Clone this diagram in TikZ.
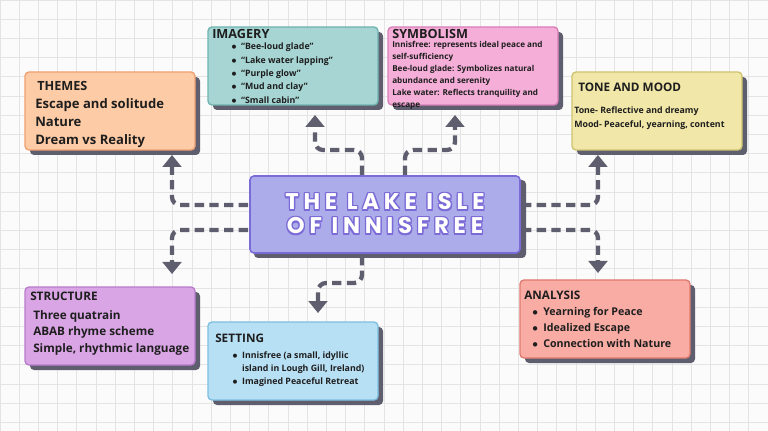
\documentclass[tikz,border=0pt]{standalone}
\usepackage{fontspec}
\setmainfont{Open Sans}
\newfontfamily\titlefont{Poppins}
\usetikzlibrary{arrows.meta}
\definecolor{shad}{HTML}{5E5E6E}
\definecolor{gridc}{HTML}{E4E4E4}
\definecolor{cpeach}{HTML}{FDCBA5}\definecolor{bpeach}{HTML}{F0A070}
\definecolor{cteal}{HTML}{A6D5D3}\definecolor{bteal}{HTML}{6FB3B0}
\definecolor{cpink}{HTML}{F4AED8}\definecolor{bpink}{HTML}{D97FB8}
\definecolor{cyel}{HTML}{F1E7A8}\definecolor{byel}{HTML}{CFC36E}
\definecolor{clav}{HTML}{ADACEB}\definecolor{blav}{HTML}{7B6BD6}
\definecolor{cpur}{HTML}{D9A5E5}\definecolor{bpur}{HTML}{B87ACB}
\definecolor{cblue}{HTML}{B8E0F5}\definecolor{bblue}{HTML}{7CBFE0}
\definecolor{csal}{HTML}{F9ACA3}\definecolor{bsal}{HTML}{E07A70}
\definecolor{txt}{HTML}{1E1E1E}
\tikzset{
 card/.style={rounded corners=3pt, line width=1pt},
 conn/.style={shad, line width=3.2pt, dash pattern=on 7pt off 4pt, rounded corners=6pt, -{Triangle[width=14pt,length=9pt]}},
 ttl/.style={anchor=north west, font=\bfseries\fontsize{9.5}{11}\selectfont, text=txt, inner sep=0pt},
 body/.style={anchor=north west, font=\bfseries\fontsize{9.5}{12}\selectfont, text=txt, inner sep=0pt, align=left},
 small/.style={anchor=north west, font=\bfseries\fontsize{6.1}{9}\selectfont, text=txt, inner sep=0pt, align=left},
}
\newcommand{\cardbox}[6]{% name, x1,y1,x2,y2, fill/border
 \fill[shad, rounded corners=3pt] (#2+5,#3+5) rectangle (#4+5,#5+5);
 \draw[card, fill=c#6, draw=b#6] (#2,#3) rectangle (#4,#5);
 \coordinate (#1) at (#2,#3);
}
\begin{document}
\begin{tikzpicture}[x=0.75pt,y=-0.75pt]
\useasboundingbox (0,0) rectangle (768,431);
\fill[white!97!gray] (0,0) rectangle (768,431);
\foreach \i in {0,...,40}{\draw[gridc, line width=0.6pt] (\i*19.2,0) -- (\i*19.2,431);}
\foreach \i in {0,...,23}{\draw[gridc, line width=0.6pt] (0,\i*19.2) -- (768,\i*19.2);}
% connectors
\coordinate (cl1) at (248,205); \coordinate (cl2) at (248,230);
\coordinate (ct1) at (362,175); \coordinate (ct2) at (405,175);
\coordinate (cr1) at (522,205); \coordinate (cr2) at (522,230);
\coordinate (cb) at (362,256);
\coordinate (a1) at (172,155); \coordinate (a2) at (172,274);
\coordinate (a3) at (315,115); \coordinate (a4) at (455,115);
\coordinate (a5) at (598,155); \coordinate (a6) at (598,273);
\coordinate (a7) at (318,313);
\draw[conn] (cl1) -| (a1);
\draw[conn] (cl2) -| (a2);
\draw[conn] (ct1) |- (338,150) -| (a3);
\draw[conn] (ct2) |- (430,150) -| (a4);
\draw[conn] (cr1) -| (a5);
\draw[conn] (cr2) -| (a6);
\draw[conn] (cb) |- (340,283) -| (a7);
% cards
\cardbox{themes}{25}{72}{195}{150}{peach}
\node[ttl] at (37,81) {THEMES};
\node[body, font=\bfseries\fontsize{9.8}{13.5}\selectfont] at (35,98) {Escape and solitude\\Nature\\Dream vs Reality};
\cardbox{imagery}{208}{27}{378}{105}{teal}
\node[ttl] at (212,29) {IMAGERY};
\node[small, font=\bfseries\fontsize{6.6}{10}\selectfont] at (231,43) {$\bullet$\enspace ``Bee-loud glade''\\$\bullet$\enspace ``Lake water lapping''\\$\bullet$\enspace ``Purple glow''\\$\bullet$\enspace ``Mud and clay''\\$\bullet$\enspace ``Small cabin''};
\cardbox{symb}{388}{27}{558}{105}{pink}
\node[ttl] at (392,29) {SYMBOLISM};
\node[small] at (392,41) {Innisfree: represents ideal peace and\\self-sufficiency\\Bee-loud glade: Symbolizes natural\\abundance and serenity\\Lake water: Reflects tranquility and\\escape};
\cardbox{tone}{572}{72}{742}{150}{yel}
\node[ttl, font=\bfseries\fontsize{8.8}{11}\selectfont] at (578,83) {TONE AND MOOD};
\node[small, font=\bfseries\fontsize{6.6}{10.5}\selectfont] at (574,107) {Tone- Reflective and dreamy\\Mood- Peaceful, yearning, content};
\cardbox{struct}{25}{287}{195}{365}{pur}
\node[ttl, font=\bfseries\fontsize{8.8}{11}\selectfont] at (30,292) {STRUCTURE};
\node[body, font=\bfseries\fontsize{8.8}{12.5}\selectfont] at (33,310) {Three quatrain\\ABAB rhyme scheme\\Simple, rhythmic language};
\cardbox{setting}{208}{322}{378}{400}{blue}
\node[ttl, font=\bfseries\fontsize{8.8}{11}\selectfont] at (215,334) {SETTING};
\node[small, font=\bfseries\fontsize{6.6}{10}\selectfont] at (232,351) {$\bullet$\enspace Innisfree (a small, idyllic\\\phantom{$\bullet$\enspace }island in Lough Gill, Ireland)\\$\bullet$\enspace Imagined Peaceful Retreat};
\cardbox{analysis}{520}{280}{690}{358}{sal}
\node[ttl, font=\bfseries\fontsize{8.8}{11}\selectfont] at (524,291) {ANALYSIS};
\node[body, font=\bfseries\fontsize{8}{12}\selectfont] at (532,307) {$\bullet$\enspace Yearning for Peace\\$\bullet$\enspace Idealized Escape\\$\bullet$\enspace Connection with Nature};
% center
\fill[shad, rounded corners=3pt] (254,180) rectangle (526,258);
\draw[card, fill=clav, draw=blav, line width=1.2pt] (250,176) rectangle (520,253);
\node (title) at (385,214) {};
\foreach \dx/\dy in {-1/0,1/0,0/-1,0/1,-0.8/-0.8,0.8/0.8,-0.8/0.8,0.8/-0.8}{
 \node[text=blav, align=center, font=\titlefont\bfseries\fontsize{17}{18}\selectfont, xshift=\dx pt, yshift=\dy pt] at (title) {T H E\ \ L A K E\ \ I S L E\\O F\ \ I N N I S F R E E};}
\node[text=white, align=center, font=\titlefont\bfseries\fontsize{17}{18}\selectfont] at (title) {T H E\ \ L A K E\ \ I S L E\\O F\ \ I N N I S F R E E};
\end{tikzpicture}
\end{document}
